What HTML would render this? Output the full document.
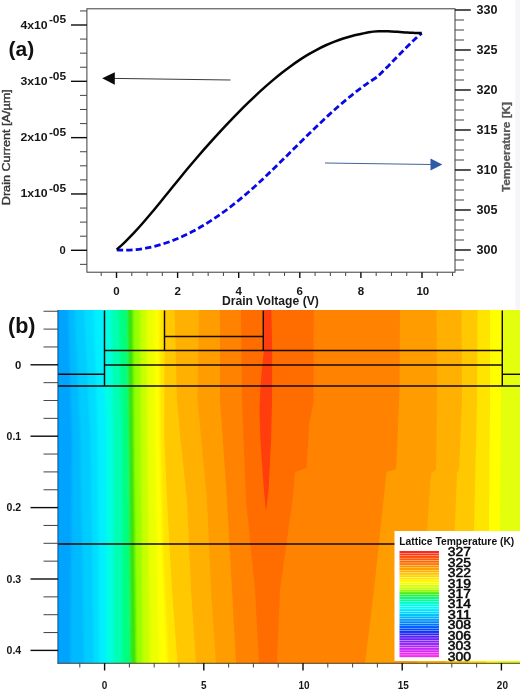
<!DOCTYPE html>
<html lang="en">
<head>
<meta charset="utf-8">
<title>Drain current, temperature and lattice temperature map</title>
<style>
html,body{margin:0;padding:0;background:#fff;}
body{width:520px;height:690px;overflow:hidden;}
svg{display:block;font-family:"Liberation Sans",sans-serif;}
.maj{stroke:#0c0c0c;stroke-width:1.4;}
.min{stroke:#4a4a4a;stroke-width:1.05;}
.tl{font-size:10px;font-weight:bold;fill:#161616;}
.tl2{font-size:10px;font-weight:bold;fill:#161616;}
.tr{font-size:12px;font-weight:bold;fill:#161616;}
.lg{font-size:12.4px;fill:#0a0a0a;stroke:#0a0a0a;stroke-width:0.55;}
.st line{stroke:#140800;stroke-width:1.45;}
</style>
</head>
<body>
<svg width="520" height="690" viewBox="0 0 520 690">
<defs>
<filter id="soft" x="-2%" y="-2%" width="104%" height="104%"><feGaussianBlur stdDeviation="1.0 0.4"/></filter>
<filter id="soft2" x="-2%" y="-2%" width="104%" height="104%"><feGaussianBlur stdDeviation="0.55"/></filter>
<clipPath id="cp"><rect x="58.0" y="310.0" width="462.0" height="353.20000000000005"/></clipPath>
</defs>
<rect width="520" height="690" fill="#fff"/>
<rect x="515.3" y="0" width="4.7" height="309" fill="#f6f6f8"/>
<g clip-path="url(#cp)"><g filter="url(#soft)">
<rect x="50.0" y="302.0" width="478.0" height="369.20000000000005" fill="#04a3fe"/>
<polygon points="68,302.0 68,310.0 71.9,440 70.4,663.2 70.4,671.2 528.0,671.2 528.0,302.0" fill="#00baff"/>
<polygon points="74.8,302.0 74.8,310.0 80.5,440 84.1,663.2 84.1,671.2 528.0,671.2 528.0,302.0" fill="#00ccff"/>
<polygon points="84,302.0 84,310.0 90.6,440 93.5,663.2 93.5,671.2 528.0,671.2 528.0,302.0" fill="#00deff"/>
<polygon points="93.5,302.0 93.5,310.0 97.8,440 99.3,663.2 99.3,671.2 528.0,671.2 528.0,302.0" fill="#00f0ff"/>
<polygon points="104.6,302.0 104.6,310.0 104.6,386 106.5,440 106.5,663.2 106.5,671.2 528.0,671.2 528.0,302.0" fill="#00ffe0"/>
<polygon points="111,302.0 111,310.0 113.7,440 113.7,663.2 113.7,671.2 528.0,671.2 528.0,302.0" fill="#00ffb2"/>
<polygon points="118.5,302.0 118.5,310.0 122.4,440 122.4,663.2 122.4,671.2 528.0,671.2 528.0,302.0" fill="#00ff80"/>
<polygon points="127.3,302.0 127.3,310.0 128.7,440 130.4,663.2 130.4,671.2 528.0,671.2 528.0,302.0" fill="#34e608"/>
<polygon points="133,302.0 133,310.0 133.7,440 136.2,663.2 136.2,671.2 528.0,671.2 528.0,302.0" fill="#96ff00"/>
<polygon points="140,302.0 140,310.0 141,440 142.5,663.2 142.5,671.2 528.0,671.2 528.0,302.0" fill="#c8ff00"/>
<polygon points="146.3,302.0 146.3,310.0 147.5,440 150,663.2 150,671.2 528.0,671.2 528.0,302.0" fill="#ebff00"/>
<polygon points="153.8,302.0 153.8,310.0 155,440 158.8,663.2 158.8,671.2 528.0,671.2 528.0,302.0" fill="#ffff00"/>
<polygon points="159.6,302.0 159.6,310.0 160.2,440 163,560 168,663.2 168,671.2 528.0,671.2 528.0,302.0" fill="#ffe400"/>
</g><g filter="url(#soft2)">
<polygon points="164.5,302.0 164.5,310.0 164.5,350 164.3,440 168,520 172,590 177.5,663.2 177.5,671.2 528.0,671.2 528.0,302.0" fill="#ffc800"/>
<polygon points="174.6,302.0 174.6,310.0 177,400 180.6,440 187,500 191,590 196,663.2 196,671.2 528.0,671.2 528.0,302.0" fill="#ffb000"/>
<polygon points="199,302.0 199,310.0 197.5,400 207,500 211,590 216,663.2 216,671.2 528.0,671.2 528.0,302.0" fill="#ff9c00"/>
<polygon points="220,302.0 220,310.0 220,400 227,500 232,590 236,663.2 236,671.2 528.0,671.2 528.0,302.0" fill="#ff8300"/>
<polygon points="241,302.0 241,310.0 242,400 246,500 255,590 259,663.2 259,671.2 528.0,671.2 528.0,302.0" fill="#ff6c00"/>
<polygon points="313.7,302.0 313.7,310.0 313.5,402 309,425 306.5,468 295,472 292.5,500 280,590 277,663.2 277,671.2 528.0,671.2 528.0,302.0" fill="#ff8300"/>
<polygon points="400,302.0 400,310.0 399.5,390 397,450 396,469 386.5,472 380.5,528 374,590 365,663.2 365,671.2 528.0,671.2 528.0,302.0" fill="#ff9c00"/>
<polygon points="436.5,302.0 436.5,310.0 437,390 436,470 431,473 427,530 417,663.2 417,671.2 528.0,671.2 528.0,302.0" fill="#ffb000"/>
<polygon points="461.5,302.0 461.5,310.0 462,400 459,470 457,473 454.7,530 446,663.2 446,671.2 528.0,671.2 528.0,302.0" fill="#ffc800"/>
<polygon points="477.5,302.0 477.5,310.0 477,400 474,530 468,663.2 468,671.2 528.0,671.2 528.0,302.0" fill="#ffe400"/>
<polygon points="490,302.0 490,310.0 490,400 489,530 486,663.2 486,671.2 528.0,671.2 528.0,302.0" fill="#ffff00"/>
<polygon points="502,302.0 502,310.0 501,400 500,530 498,663.2 498,671.2 528.0,671.2 528.0,302.0" fill="#e4ff08"/>
<polygon points="264,302 264,310.5 264,350 262.3,366 260.5,387 259.5,410 260.5,440 262.5,470 264,490 266,511 268.5,490 269.5,470 271,440 272,400 272.2,350 271.3,310.5 271.3,302" fill="#ff3c08"/>
</g></g>
<g class="st">
<line x1="104.5" y1="310.5" x2="104.5" y2="386"/>
<line x1="164.5" y1="310.5" x2="164.5" y2="350.5"/>
<line x1="263.3" y1="310.5" x2="263.3" y2="350.5"/>
<line x1="502.3" y1="310.5" x2="502.3" y2="386"/>
<line x1="164.5" y1="336.5" x2="263.3" y2="336.5"/>
<line x1="104.5" y1="350.5" x2="502.3" y2="350.5"/>
<line x1="104.5" y1="365" x2="502.3" y2="365"/>
<line x1="58" y1="374.3" x2="104.5" y2="374.3"/>
<line x1="502.3" y1="374.3" x2="520" y2="374.3"/>
<line x1="58" y1="386" x2="520" y2="386"/>
<line x1="58" y1="544" x2="395" y2="544"/>
</g>
<line x1="57.6" y1="663.3" x2="520.0" y2="663.3" stroke="#3a3020" stroke-width="0.9"/>
<line x1="57.9" y1="310.0" x2="57.9" y2="663.7" stroke="#0c3c66" stroke-width="0.9"/>
<line class="min" x1="43.5" y1="311.25" x2="58" y2="311.25"/>
<line class="min" x1="43.5" y1="329.10" x2="58" y2="329.10"/>
<line class="min" x1="43.5" y1="346.95" x2="58" y2="346.95"/>
<line class="maj" x1="30.5" y1="364.80" x2="58" y2="364.80"/>
<line class="min" x1="43.5" y1="382.65" x2="58" y2="382.65"/>
<line class="min" x1="43.5" y1="400.50" x2="58" y2="400.50"/>
<line class="min" x1="43.5" y1="418.35" x2="58" y2="418.35"/>
<line class="maj" x1="30.5" y1="436.20" x2="58" y2="436.20"/>
<line class="min" x1="43.5" y1="454.05" x2="58" y2="454.05"/>
<line class="min" x1="43.5" y1="471.90" x2="58" y2="471.90"/>
<line class="min" x1="43.5" y1="489.75" x2="58" y2="489.75"/>
<line class="maj" x1="30.5" y1="507.60" x2="58" y2="507.60"/>
<line class="min" x1="43.5" y1="525.45" x2="58" y2="525.45"/>
<line class="min" x1="43.5" y1="543.30" x2="58" y2="543.30"/>
<line class="min" x1="43.5" y1="561.15" x2="58" y2="561.15"/>
<line class="maj" x1="30.5" y1="579.00" x2="58" y2="579.00"/>
<line class="min" x1="43.5" y1="596.85" x2="58" y2="596.85"/>
<line class="min" x1="43.5" y1="614.70" x2="58" y2="614.70"/>
<line class="min" x1="43.5" y1="632.55" x2="58" y2="632.55"/>
<line class="maj" x1="30.5" y1="650.40" x2="58" y2="650.40"/>
<text class="tl" x="14.9" y="368.50" textLength="6.3" lengthAdjust="spacingAndGlyphs">0</text>
<text class="tl" x="6.6" y="439.90" textLength="14.6" lengthAdjust="spacingAndGlyphs">0.1</text>
<text class="tl" x="6.6" y="511.30" textLength="14.6" lengthAdjust="spacingAndGlyphs">0.2</text>
<text class="tl" x="6.6" y="582.70" textLength="14.6" lengthAdjust="spacingAndGlyphs">0.3</text>
<text class="tl" x="6.6" y="654.10" textLength="14.6" lengthAdjust="spacingAndGlyphs">0.4</text>
<line class="min" x1="79.80" y1="663" x2="79.80" y2="667.6"/>
<line class="maj" x1="104.60" y1="663" x2="104.60" y2="670.5"/>
<line class="min" x1="129.40" y1="663" x2="129.40" y2="667.6"/>
<line class="min" x1="154.20" y1="663" x2="154.20" y2="667.6"/>
<line class="min" x1="179.00" y1="663" x2="179.00" y2="667.6"/>
<line class="maj" x1="203.80" y1="663" x2="203.80" y2="670.5"/>
<line class="min" x1="228.60" y1="663" x2="228.60" y2="667.6"/>
<line class="min" x1="253.40" y1="663" x2="253.40" y2="667.6"/>
<line class="min" x1="278.20" y1="663" x2="278.20" y2="667.6"/>
<line class="maj" x1="303.00" y1="663" x2="303.00" y2="670.5"/>
<line class="min" x1="327.80" y1="663" x2="327.80" y2="667.6"/>
<line class="min" x1="352.60" y1="663" x2="352.60" y2="667.6"/>
<line class="min" x1="377.40" y1="663" x2="377.40" y2="667.6"/>
<line class="maj" x1="402.20" y1="663" x2="402.20" y2="670.5"/>
<line class="min" x1="427.00" y1="663" x2="427.00" y2="667.6"/>
<line class="min" x1="451.80" y1="663" x2="451.80" y2="667.6"/>
<line class="min" x1="476.60" y1="663" x2="476.60" y2="667.6"/>
<line class="maj" x1="501.40" y1="663" x2="501.40" y2="670.5"/>
<text class="tl" x="104.60" y="688.9" text-anchor="middle">0</text>
<text class="tl" x="203.80" y="688.9" text-anchor="middle">5</text>
<text class="tl" x="304.00" y="688.9" text-anchor="middle">10</text>
<text class="tl" x="403.20" y="688.9" text-anchor="middle">15</text>
<text class="tl" x="502.40" y="688.9" text-anchor="middle">20</text>
<rect x="394.5" y="531" width="125.5" height="130" fill="#fff"/>
<text x="399.3" y="545.4" font-size="11" font-weight="bold" fill="#111" textLength="115" lengthAdjust="spacingAndGlyphs">Lattice Temperature (K)</text>
<rect x="399.5" y="551.00" width="39.5" height="2.08" fill="rgb(255,40,30)"/>
<rect x="399.5" y="553.42" width="39.5" height="2.08" fill="rgb(255,56,23)"/>
<rect x="399.5" y="555.84" width="39.5" height="2.08" fill="rgb(255,73,16)"/>
<rect x="399.5" y="558.26" width="39.5" height="2.08" fill="rgb(255,89,9)"/>
<rect x="399.5" y="560.68" width="39.5" height="2.08" fill="rgb(255,105,2)"/>
<rect x="399.5" y="563.10" width="39.5" height="2.08" fill="rgb(255,123,0)"/>
<rect x="399.5" y="565.52" width="39.5" height="2.08" fill="rgb(255,142,0)"/>
<rect x="399.5" y="567.94" width="39.5" height="2.08" fill="rgb(255,160,0)"/>
<rect x="399.5" y="570.36" width="39.5" height="2.08" fill="rgb(255,179,0)"/>
<rect x="399.5" y="572.78" width="39.5" height="2.08" fill="rgb(255,197,0)"/>
<rect x="399.5" y="575.20" width="39.5" height="2.08" fill="rgb(255,214,0)"/>
<rect x="399.5" y="577.62" width="39.5" height="2.08" fill="rgb(255,230,0)"/>
<rect x="399.5" y="580.05" width="39.5" height="2.08" fill="rgb(255,247,0)"/>
<rect x="399.5" y="582.47" width="39.5" height="2.08" fill="rgb(244,255,0)"/>
<rect x="399.5" y="584.89" width="39.5" height="2.08" fill="rgb(222,255,0)"/>
<rect x="399.5" y="587.31" width="39.5" height="2.08" fill="rgb(200,255,0)"/>
<rect x="399.5" y="589.73" width="39.5" height="2.08" fill="rgb(151,249,6)"/>
<rect x="399.5" y="592.15" width="39.5" height="2.08" fill="rgb(75,237,18)"/>
<rect x="399.5" y="594.57" width="39.5" height="2.08" fill="rgb(38,242,65)"/>
<rect x="399.5" y="596.99" width="39.5" height="2.08" fill="rgb(10,252,120)"/>
<rect x="399.5" y="599.41" width="39.5" height="2.08" fill="rgb(0,255,162)"/>
<rect x="399.5" y="601.83" width="39.5" height="2.08" fill="rgb(0,255,195)"/>
<rect x="399.5" y="604.25" width="39.5" height="2.08" fill="rgb(0,255,229)"/>
<rect x="399.5" y="606.67" width="39.5" height="2.08" fill="rgb(0,251,255)"/>
<rect x="399.5" y="609.09" width="39.5" height="2.08" fill="rgb(0,233,255)"/>
<rect x="399.5" y="611.51" width="39.5" height="2.08" fill="rgb(0,214,255)"/>
<rect x="399.5" y="613.93" width="39.5" height="2.08" fill="rgb(0,196,255)"/>
<rect x="399.5" y="616.35" width="39.5" height="2.08" fill="rgb(0,177,255)"/>
<rect x="399.5" y="618.77" width="39.5" height="2.08" fill="rgb(0,159,255)"/>
<rect x="399.5" y="621.19" width="39.5" height="2.08" fill="rgb(0,138,255)"/>
<rect x="399.5" y="623.61" width="39.5" height="2.08" fill="rgb(0,117,255)"/>
<rect x="399.5" y="626.03" width="39.5" height="2.08" fill="rgb(0,96,255)"/>
<rect x="399.5" y="628.45" width="39.5" height="2.08" fill="rgb(0,74,255)"/>
<rect x="399.5" y="630.88" width="39.5" height="2.08" fill="rgb(13,54,252)"/>
<rect x="399.5" y="633.30" width="39.5" height="2.08" fill="rgb(54,37,243)"/>
<rect x="399.5" y="635.72" width="39.5" height="2.08" fill="rgb(84,32,243)"/>
<rect x="399.5" y="638.14" width="39.5" height="2.08" fill="rgb(107,35,247)"/>
<rect x="399.5" y="640.56" width="39.5" height="2.08" fill="rgb(130,38,251)"/>
<rect x="399.5" y="642.98" width="39.5" height="2.08" fill="rgb(153,40,255)"/>
<rect x="399.5" y="645.40" width="39.5" height="2.08" fill="rgb(174,40,252)"/>
<rect x="399.5" y="647.82" width="39.5" height="2.08" fill="rgb(194,40,249)"/>
<rect x="399.5" y="650.24" width="39.5" height="2.08" fill="rgb(214,40,246)"/>
<rect x="399.5" y="652.66" width="39.5" height="2.08" fill="rgb(235,40,243)"/>
<rect x="399.5" y="655.08" width="39.5" height="2.08" fill="rgb(255,40,240)"/>
<text class="lg" x="447.8" y="556.30" textLength="23.2" lengthAdjust="spacingAndGlyphs">327</text>
<text class="lg" x="447.8" y="566.72" textLength="23.2" lengthAdjust="spacingAndGlyphs">325</text>
<text class="lg" x="447.8" y="577.14" textLength="23.2" lengthAdjust="spacingAndGlyphs">322</text>
<text class="lg" x="447.8" y="587.56" textLength="23.2" lengthAdjust="spacingAndGlyphs">319</text>
<text class="lg" x="447.8" y="597.98" textLength="23.2" lengthAdjust="spacingAndGlyphs">317</text>
<text class="lg" x="447.8" y="608.40" textLength="23.2" lengthAdjust="spacingAndGlyphs">314</text>
<text class="lg" x="447.8" y="618.82" textLength="23.2" lengthAdjust="spacingAndGlyphs">311</text>
<text class="lg" x="447.8" y="629.24" textLength="23.2" lengthAdjust="spacingAndGlyphs">308</text>
<text class="lg" x="447.8" y="639.66" textLength="23.2" lengthAdjust="spacingAndGlyphs">306</text>
<text class="lg" x="447.8" y="650.08" textLength="23.2" lengthAdjust="spacingAndGlyphs">303</text>
<text class="lg" x="447.8" y="660.50" textLength="23.2" lengthAdjust="spacingAndGlyphs">300</text>
<rect x="86.9" y="8.8" width="368.1" height="263.4" fill="none" stroke="#3c3c3c" stroke-width="1"/>
<line class="min" x1="80" y1="10.92" x2="86.9" y2="10.92"/>
<line class="maj" x1="71" y1="25.00" x2="86.9" y2="25.00"/>
<line class="min" x1="80" y1="39.08" x2="86.9" y2="39.08"/>
<line class="min" x1="80" y1="53.16" x2="86.9" y2="53.16"/>
<line class="min" x1="80" y1="67.24" x2="86.9" y2="67.24"/>
<line class="maj" x1="71" y1="81.32" x2="86.9" y2="81.32"/>
<line class="min" x1="80" y1="95.40" x2="86.9" y2="95.40"/>
<line class="min" x1="80" y1="109.48" x2="86.9" y2="109.48"/>
<line class="min" x1="80" y1="123.56" x2="86.9" y2="123.56"/>
<line class="maj" x1="71" y1="137.64" x2="86.9" y2="137.64"/>
<line class="min" x1="80" y1="151.72" x2="86.9" y2="151.72"/>
<line class="min" x1="80" y1="165.80" x2="86.9" y2="165.80"/>
<line class="min" x1="80" y1="179.88" x2="86.9" y2="179.88"/>
<line class="maj" x1="71" y1="193.96" x2="86.9" y2="193.96"/>
<line class="min" x1="80" y1="208.04" x2="86.9" y2="208.04"/>
<line class="min" x1="80" y1="222.12" x2="86.9" y2="222.12"/>
<line class="min" x1="80" y1="236.20" x2="86.9" y2="236.20"/>
<line class="maj" x1="71" y1="250.28" x2="86.9" y2="250.28"/>
<line class="min" x1="80" y1="264.36" x2="86.9" y2="264.36"/>
<text class="tl2" x="20.4" y="28.50" textLength="27.3" lengthAdjust="spacingAndGlyphs">4x10</text>
<text class="tl2" x="48.9" y="23.40" textLength="17.3" lengthAdjust="spacingAndGlyphs">-05</text>
<text class="tl2" x="20.4" y="84.80" textLength="27.3" lengthAdjust="spacingAndGlyphs">3x10</text>
<text class="tl2" x="48.9" y="79.70" textLength="17.3" lengthAdjust="spacingAndGlyphs">-05</text>
<text class="tl2" x="20.4" y="141.10" textLength="27.3" lengthAdjust="spacingAndGlyphs">2x10</text>
<text class="tl2" x="48.9" y="136.00" textLength="17.3" lengthAdjust="spacingAndGlyphs">-05</text>
<text class="tl2" x="20.4" y="197.40" textLength="27.3" lengthAdjust="spacingAndGlyphs">1x10</text>
<text class="tl2" x="48.9" y="192.30" textLength="17.3" lengthAdjust="spacingAndGlyphs">-05</text>
<text class="tl2" x="59.6" y="254.00" textLength="6.2" lengthAdjust="spacingAndGlyphs">0</text>
<line class="maj" x1="455.0" y1="10.00" x2="470.8" y2="10.00"/>
<line class="min" x1="455.0" y1="20.00" x2="464" y2="20.00"/>
<line class="min" x1="455.0" y1="30.00" x2="464" y2="30.00"/>
<line class="min" x1="455.0" y1="40.00" x2="464" y2="40.00"/>
<line class="maj" x1="455.0" y1="50.00" x2="470.8" y2="50.00"/>
<line class="min" x1="455.0" y1="60.00" x2="464" y2="60.00"/>
<line class="min" x1="455.0" y1="70.00" x2="464" y2="70.00"/>
<line class="min" x1="455.0" y1="80.00" x2="464" y2="80.00"/>
<line class="maj" x1="455.0" y1="90.00" x2="470.8" y2="90.00"/>
<line class="min" x1="455.0" y1="100.00" x2="464" y2="100.00"/>
<line class="min" x1="455.0" y1="110.00" x2="464" y2="110.00"/>
<line class="min" x1="455.0" y1="120.00" x2="464" y2="120.00"/>
<line class="maj" x1="455.0" y1="130.00" x2="470.8" y2="130.00"/>
<line class="min" x1="455.0" y1="140.00" x2="464" y2="140.00"/>
<line class="min" x1="455.0" y1="150.00" x2="464" y2="150.00"/>
<line class="min" x1="455.0" y1="160.00" x2="464" y2="160.00"/>
<line class="maj" x1="455.0" y1="170.00" x2="470.8" y2="170.00"/>
<line class="min" x1="455.0" y1="180.00" x2="464" y2="180.00"/>
<line class="min" x1="455.0" y1="190.00" x2="464" y2="190.00"/>
<line class="min" x1="455.0" y1="200.00" x2="464" y2="200.00"/>
<line class="maj" x1="455.0" y1="210.00" x2="470.8" y2="210.00"/>
<line class="min" x1="455.0" y1="220.00" x2="464" y2="220.00"/>
<line class="min" x1="455.0" y1="230.00" x2="464" y2="230.00"/>
<line class="min" x1="455.0" y1="240.00" x2="464" y2="240.00"/>
<line class="maj" x1="455.0" y1="250.00" x2="470.8" y2="250.00"/>
<line class="min" x1="455.0" y1="260.00" x2="464" y2="260.00"/>
<line class="min" x1="455.0" y1="270.00" x2="464" y2="270.00"/>
<text class="tr" x="476.6" y="14.30" textLength="21" lengthAdjust="spacingAndGlyphs">330</text>
<text class="tr" x="476.6" y="54.30" textLength="21" lengthAdjust="spacingAndGlyphs">325</text>
<text class="tr" x="476.6" y="94.30" textLength="21" lengthAdjust="spacingAndGlyphs">320</text>
<text class="tr" x="476.6" y="134.30" textLength="21" lengthAdjust="spacingAndGlyphs">315</text>
<text class="tr" x="476.6" y="174.30" textLength="21" lengthAdjust="spacingAndGlyphs">310</text>
<text class="tr" x="476.6" y="214.30" textLength="21" lengthAdjust="spacingAndGlyphs">305</text>
<text class="tr" x="476.6" y="254.30" textLength="21" lengthAdjust="spacingAndGlyphs">300</text>
<line class="min" x1="101.22" y1="272.2" x2="101.22" y2="276"/>
<line class="maj" x1="116.50" y1="272.2" x2="116.50" y2="278"/>
<line class="min" x1="131.78" y1="272.2" x2="131.78" y2="276"/>
<line class="min" x1="147.05" y1="272.2" x2="147.05" y2="276"/>
<line class="min" x1="162.32" y1="272.2" x2="162.32" y2="276"/>
<line class="maj" x1="177.60" y1="272.2" x2="177.60" y2="278"/>
<line class="min" x1="192.88" y1="272.2" x2="192.88" y2="276"/>
<line class="min" x1="208.15" y1="272.2" x2="208.15" y2="276"/>
<line class="min" x1="223.43" y1="272.2" x2="223.43" y2="276"/>
<line class="maj" x1="238.70" y1="272.2" x2="238.70" y2="278"/>
<line class="min" x1="253.97" y1="272.2" x2="253.97" y2="276"/>
<line class="min" x1="269.25" y1="272.2" x2="269.25" y2="276"/>
<line class="min" x1="284.52" y1="272.2" x2="284.52" y2="276"/>
<line class="maj" x1="299.80" y1="272.2" x2="299.80" y2="278"/>
<line class="min" x1="315.08" y1="272.2" x2="315.08" y2="276"/>
<line class="min" x1="330.35" y1="272.2" x2="330.35" y2="276"/>
<line class="min" x1="345.62" y1="272.2" x2="345.62" y2="276"/>
<line class="maj" x1="360.90" y1="272.2" x2="360.90" y2="278"/>
<line class="min" x1="376.18" y1="272.2" x2="376.18" y2="276"/>
<line class="min" x1="391.45" y1="272.2" x2="391.45" y2="276"/>
<line class="min" x1="406.73" y1="272.2" x2="406.73" y2="276"/>
<line class="maj" x1="422.00" y1="272.2" x2="422.00" y2="278"/>
<line class="min" x1="437.28" y1="272.2" x2="437.28" y2="276"/>
<line class="min" x1="452.55" y1="272.2" x2="452.55" y2="276"/>
<text class="tl2" x="116.50" y="294.7" text-anchor="middle" textLength="6.4" lengthAdjust="spacingAndGlyphs">0</text>
<text class="tl2" x="177.60" y="294.7" text-anchor="middle" textLength="6.4" lengthAdjust="spacingAndGlyphs">2</text>
<text class="tl2" x="238.70" y="294.7" text-anchor="middle" textLength="6.4" lengthAdjust="spacingAndGlyphs">4</text>
<text class="tl2" x="299.80" y="294.7" text-anchor="middle" textLength="6.4" lengthAdjust="spacingAndGlyphs">6</text>
<text class="tl2" x="360.90" y="294.7" text-anchor="middle" textLength="6.4" lengthAdjust="spacingAndGlyphs">8</text>
<text class="tl2" x="422.80" y="294.7" text-anchor="middle" textLength="12.8" lengthAdjust="spacingAndGlyphs">10</text>
<text x="270.4" y="304.6" font-size="12" font-weight="bold" fill="#1c1c1c" text-anchor="middle" textLength="96.8" lengthAdjust="spacingAndGlyphs">Drain Voltage (V)</text>
<text transform="translate(10.4,147.2) rotate(-90)" font-size="11" fill="#383838" stroke="#383838" stroke-width="0.4" text-anchor="middle" textLength="116" lengthAdjust="spacingAndGlyphs">Drain Current [A/µm]</text>
<text transform="translate(510.4,147) rotate(-90)" font-size="11.5" font-weight="bold" fill="#585858" stroke="#585858" stroke-width="0.3" text-anchor="middle" textLength="90" lengthAdjust="spacingAndGlyphs">Temperature [K]</text>
<text x="8.6" y="56.3" font-size="21" font-weight="bold" fill="#111">(a)</text>
<text x="8" y="332.6" font-size="21.5" font-weight="bold" fill="#111">(b)</text>
<path d="M116.7,249.96 C118.31,249.99 123.14,250.22 126.36,250.15 C129.58,250.08 132.80,249.88 136.02,249.55 C139.24,249.23 142.46,248.77 145.68,248.2 C148.90,247.62 152.12,246.92 155.34,246.1 C158.56,245.28 161.78,244.34 165.0,243.29 C168.22,242.23 171.44,241.06 174.66,239.77 C177.88,238.49 181.09,237.09 184.31,235.58 C187.53,234.08 190.75,232.46 193.97,230.74 C197.19,229.02 200.41,227.19 203.63,225.26 C206.85,223.33 210.07,221.29 213.29,219.16 C216.51,217.03 219.73,214.79 222.95,212.47 C226.17,210.15 229.39,207.72 232.61,205.21 C235.83,202.70 239.05,200.08 242.27,197.39 C245.49,194.69 248.71,191.90 251.93,189.04 C255.15,186.18 258.37,183.21 261.59,180.21 C264.81,177.21 268.03,174.12 271.25,171.02 C274.47,167.92 277.69,164.75 280.91,161.58 C284.13,158.41 287.35,155.21 290.57,152.02 C293.79,148.83 297.01,145.62 300.23,142.45 C303.45,139.27 306.67,136.10 309.89,132.97 C313.11,129.84 316.32,126.72 319.54,123.67 C322.76,120.62 325.98,117.60 329.2,114.65 C332.42,111.70 335.64,108.79 338.86,105.98 C342.08,103.17 345.30,100.42 348.52,97.77 C351.74,95.12 354.96,92.55 358.18,90.1 C361.40,87.65 364.62,85.28 367.84,83.06 C371.06,80.84 375.89,77.80 377.5,76.75 L388.1,66.2 L397.7,56.2 L407.3,46.5 L416.9,37.3 L421.7,33.1" fill="none" stroke="#0808e6" stroke-width="2.8" stroke-dasharray="6.4 3.1"/>
<path d="M116.7,249.51 C118.15,248.19 122.50,244.37 125.41,241.56 C128.31,238.75 131.22,235.75 134.13,232.66 C137.03,229.57 139.94,226.32 142.84,223.01 C145.75,219.70 148.66,216.27 151.56,212.8 C154.47,209.34 157.37,205.78 160.27,202.22 C163.18,198.66 166.09,195.03 168.99,191.44 C171.90,187.85 174.80,184.23 177.7,180.67 C180.60,177.11 183.50,173.57 186.41,170.08 C189.31,166.59 192.22,163.14 195.13,159.74 C198.03,156.34 200.94,152.98 203.84,149.66 C206.75,146.34 209.66,143.07 212.56,139.84 C215.47,136.61 218.37,133.43 221.27,130.3 C224.18,127.17 227.09,124.08 229.99,121.05 C232.90,118.02 235.80,115.03 238.7,112.09 C241.60,109.15 244.50,106.26 247.41,103.43 C250.31,100.60 253.22,97.82 256.13,95.11 C259.03,92.40 261.93,89.75 264.84,87.17 C267.75,84.59 270.65,82.08 273.56,79.64 C276.47,77.20 279.37,74.84 282.27,72.56 C285.17,70.28 288.09,68.08 290.99,65.97 C293.89,63.86 296.80,61.84 299.7,59.91 C302.60,57.98 305.50,56.14 308.41,54.41 C311.32,52.68 314.23,51.05 317.13,49.52 C320.03,47.99 322.93,46.57 325.84,45.25 C328.75,43.93 331.65,42.71 334.56,41.59 C337.47,40.47 340.37,39.44 343.27,38.51 C346.17,37.58 349.09,36.74 351.99,35.99 C354.89,35.24 357.90,34.64 360.7,34.01 C363.50,33.38 365.83,32.65 368.8,32.2 C371.77,31.75 375.28,31.47 378.5,31.3 C381.72,31.13 384.90,31.12 388.1,31.2 C391.30,31.28 394.50,31.57 397.7,31.8 C400.90,32.03 404.50,32.42 407.3,32.6 C410.10,32.78 412.10,32.82 414.5,32.9 C416.90,32.98 420.50,33.07 421.7,33.1" fill="none" stroke="#050505" stroke-width="2.5" stroke-linejoin="round"/>
<line x1="113" y1="78.4" x2="230.5" y2="80" stroke="#3a3a3a" stroke-width="1"/>
<polygon points="102.2,78.2 114.8,72.2 114.8,84.8" fill="#0a0a0a"/>
<line x1="325" y1="163" x2="432" y2="164.5" stroke="#44649c" stroke-width="1.1"/>
<polygon points="442.3,164.6 430.5,158.6 430.5,170.4" fill="#2f5aa8"/>
</svg>
</body>
</html>
